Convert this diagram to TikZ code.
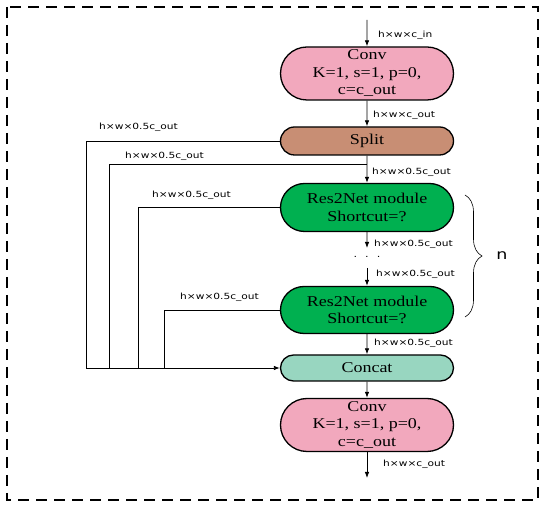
\documentclass[tikz,border=0pt]{standalone}
\usepackage{fontspec}
\setmainfont{Liberation Serif}
\newfontfamily\boxfont[FakeStretch=1.2]{Liberation Serif}
\newfontfamily\labfont[FakeStretch=1.25]{DejaVu Sans}
\usetikzlibrary{positioning,shapes.misc,arrows.meta,decorations.pathreplacing}
\definecolor{convpink}{RGB}{242,168,189}
\definecolor{splitbrown}{RGB}{200,142,116}
\definecolor{resgreen}{RGB}{0,176,80}
\definecolor{catgreen}{RGB}{152,214,192}

\begin{document}
\begin{tikzpicture}
        [x=1pt,y=1pt,
        pill/.style={rounded rectangle,draw,line width=1.3pt,minimum width=173pt,inner sep=0pt,
                     align=center,font=\boxfont\fontsize{15}{17.5}\selectfont},
        conv/.style={pill,fill=convpink,minimum height=53pt},
        lab/.style={anchor=west,inner sep=0pt,font=\labfont\fontsize{8.5}{10}\selectfont},
        arr/.style={-{Latex[length=6pt,width=4.5pt]},line width=0.8pt},
        wire/.style={line width=0.8pt}]
        \useasboundingbox (0,0) rectangle (550,-510);
        \draw[line width=1.8pt,dash pattern=on 11pt off 7pt] (7,-7) rectangle (538,-500);
        \node[conv](conv1) at (367,-73.5){Conv\\K=1, s=1, p=0,\\c=c\_out};
        \node[pill,fill=splitbrown,minimum height=28pt](split) at (367,-141){Split};
        \node[pill,fill=resgreen,minimum height=48pt](res1) at (367,-207.5){Res2Net module\\Shortcut=?};
        \node[pill,fill=resgreen,minimum height=47pt](res2) at (367,-310){Res2Net module\\Shortcut=?};
        \node[pill,fill=catgreen,minimum height=26pt](concat) at (367,-368){Concat};
        \node[conv](conv2) at (367,-425){Conv\\K=1, s=1, p=0,\\c=c\_out};
        \coordinate (in) at (367,-20);
        \coordinate (out) at (367,-478);
        \coordinate (d1) at (367,-248);
        \coordinate (d2) at (367,-268);
        \coordinate (t2) at (367,-164);
        \coordinate (b1) at (86,0 |- concat.west);
        \coordinate (b2) at (109,0 |- concat.west);
        \coordinate (b3) at (138,0 |- concat.west);
        \coordinate (b4) at (164,0 |- concat.west);
        \node[inner sep=0pt,font=\labfont\fontsize{9}{10}\selectfont](dots) at (367,-257){.\hspace{8pt}.\hspace{8pt}.};
        \draw[arr] (in) -- (conv1);
        \draw[arr] (conv1) -- (split);
        \draw[arr] (split) -- (res1);
        \draw[arr] (res1) -- (d1);
        \draw[arr] (d2) -- (res2);
        \draw[arr] (res2) -- (concat);
        \draw[arr] (concat) -- (conv2);
        \draw[arr] (conv2) -- (out);
        \draw[wire] (split.west) -| (b1);
        \draw[wire] (t2) -| (b2);
        \draw[wire] (res1.west) -| (b3);
        \draw[wire] (res2.west) -| (b4);
        \draw[arr] (b1) -- (concat.west);
        \node[lab] at (378,-35){h×w×c\_in};
        \node[lab] at (373,-115){h×w×c\_out};
        \node[lab] at (372,-172){h×w×0.5c\_out};
        \node[lab] at (374,-244){h×w×0.5c\_out};
        \node[lab] at (376,-274){h×w×0.5c\_out};
        \node[lab] at (374,-343){h×w×0.5c\_out};
        \node[lab] at (383,-464){h×w×c\_out};
        \node[lab] at (99,-127){h×w×0.5c\_out};
        \node[lab] at (125,-156){h×w×0.5c\_out};
        \node[lab] at (152,-195){h×w×0.5c\_out};
        \node[lab] at (180,-297){h×w×0.5c\_out};
        \coordinate (bt) at (465,-195);
        \coordinate (bb) at (465,-317);
        \draw[line width=0.6pt,decorate,decoration={brace,amplitude=17pt}] (bt) -- (bb);
        \node[inner sep=0pt,font=\labfont\fontsize{14}{16}\selectfont](n) at (502,-256){n};
    \end{tikzpicture}
\end{document}
